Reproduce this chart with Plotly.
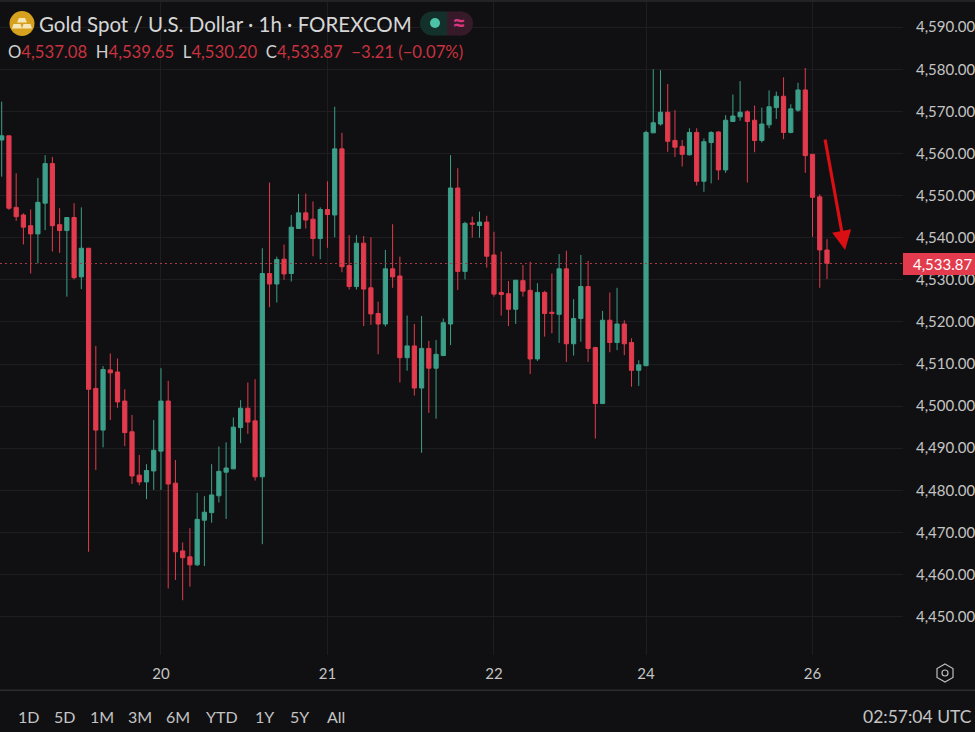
import plotly.graph_objects as go

# Hourly XAU/USD candles, oldest first
opens = [4563.2,4564.2,4547.2,4545.4,4542.85,4540.9,4548.2,4557.6,4543.1,4541.7,4544.8,4530.7,4537.5,4504.2,4494.3,4508.6,4508.1,4501.2,4493.9,4483.6,
         4482.0,4484.6,4489.3,4501.2,4481.7,4465.6,4464.2,4462.3,4472.9,4474.7,4478.7,4484.3,4485.1,4494.9,4499.5,4496.5,4483.2,4531.5,4529.0,4534.9,
         4531.5,4542.2,4545.9,4544.4,4539.8,4546.7,4545.4,4561.1,4533.4,4528.4,4538.7,4528.1,4522.0,4519.5,4532.6,4530.9,4511.5,4514.3,4504.3,4513.7,
         4509.0,4512.0,4519.5,4551.8,4532.0,4543.5,4542.9,4543.7,4535.9,4527.0,4526.7,4523.0,4529.8,4527.5,4511.2,4527.0,4522.3,4521.8,4532.6,4514.8,
         4520.8,4528.4,4513.9,4500.6,4520.4,4515.1,4519.5,4515.1,4508.5,4509.6,4564.9,4567.0,4569.8,4563.1,4561.7,4559.7,4565.0,4553.4,4562.6,4565.1,
         4556.1,4567.6,4568.7,4569.9,4567.9,4563.1,4566.8,4570.9,4573.6,4565.0,4570.3,4575.1,4559.8,4549.7,4537.08]
highs = [4572.3,4564.2,4555.3,4545.8,4546.7,4554.2,4559.6,4559.2,4547.0,4544.8,4548.2,4547.2,4537.5,4514.3,4509.5,4512.5,4511.3,4504.0,4497.9,4488.4,
         4486.2,4496.7,4509.0,4506.0,4487.2,4467.6,4471.0,4479.4,4478.6,4486.2,4490.4,4491.4,4497.3,4501.4,4505.6,4506.4,4537.5,4553.1,4535.5,4538.4,
         4545.4,4550.4,4550.5,4548.6,4547.2,4553.4,4571.1,4564.9,4540.6,4540.6,4540.4,4540.1,4524.8,4537.1,4543.2,4535.5,4521.5,4519.5,4521.4,4515.5,
         4515.7,4520.8,4559.6,4556.5,4543.8,4545.0,4546.2,4545.2,4541.4,4536.7,4529.7,4529.9,4533.5,4534.3,4529.2,4527.4,4531.5,4536.1,4536.9,4525.4,
         4535.9,4534.5,4514.1,4522.6,4527.0,4528.1,4520.4,4516.1,4510.9,4565.4,4580.0,4579.8,4576.5,4570.3,4563.2,4566.0,4566.0,4563.6,4565.3,4565.3,
         4569.1,4574.0,4577.2,4570.3,4571.4,4570.9,4575.0,4574.7,4578.1,4571.7,4576.8,4580.3,4559.8,4550.3,4539.65]
lows = [4554.5,4546.6,4544.0,4538.4,4531.5,4533.9,4541.8,4536.7,4536.4,4526.0,4530.1,4527.8,4465.4,4484.8,4490.2,4496.7,4499.6,4490.5,4481.5,4481.2,
        4477.9,4480.1,4480.1,4456.7,4458.7,4453.9,4457.1,4462.0,4462.0,4472.3,4477.1,4473.2,4485.0,4491.2,4493.4,4482.3,4467.2,4523.5,4524.6,4530.0,
        4529.6,4542.2,4542.2,4535.6,4534.9,4537.6,4540.1,4531.8,4527.7,4527.7,4519.0,4519.3,4512.3,4518.9,4528.1,4505.6,4508.4,4502.5,4488.9,4498.4,
        4497.0,4512.0,4514.5,4527.6,4530.1,4540.0,4540.0,4532.9,4526.0,4521.5,4519.0,4519.5,4526.0,4507.6,4510.7,4516.5,4517.3,4515.0,4510.5,4512.0,
        4515.3,4510.5,4492.3,4500.6,4512.8,4513.3,4512.1,4504.6,4504.8,4509.6,4564.9,4566.6,4560.4,4559.2,4556.9,4559.5,4552.4,4550.9,4552.9,4553.7,
        4555.4,4567.6,4567.8,4553.1,4560.3,4562.6,4566.0,4568.2,4563.4,4564.8,4569.9,4555.4,4540.2,4528.1,4530.20]
closes = [4564.2,4547.0,4545.0,4542.5,4540.9,4548.4,4557.6,4542.85,4541.7,4544.8,4530.5,4537.5,4504.0,4494.3,4508.7,4507.9,4501.0,4493.7,4483.4,4482.0,
          4484.7,4489.5,4501.2,4481.5,4465.4,4464.0,4462.3,4473.1,4474.8,4478.9,4484.5,4485.3,4495.0,4499.5,4496.2,4483.2,4531.5,4529.0,4534.8,4531.4,
          4542.5,4545.9,4544.2,4539.8,4546.7,4545.5,4561.1,4533.1,4528.4,4538.7,4527.8,4521.9,4519.5,4532.6,4530.7,4511.5,4514.3,4504.3,4513.7,4509.0,
          4512.3,4519.8,4551.8,4532.0,4543.4,4543.2,4543.7,4535.6,4526.6,4526.5,4523.0,4529.9,4527.3,4511.2,4527.0,4522.0,4522.0,4532.6,4514.8,4520.8,
          4528.4,4513.7,4500.6,4520.4,4515.1,4519.5,4514.8,4508.5,4509.8,4565.0,4567.3,4569.8,4562.9,4561.5,4559.8,4565.0,4553.4,4562.8,4565.0,4556.1,
          4567.9,4568.9,4569.8,4567.6,4563.1,4567.0,4571.1,4573.6,4565.0,4570.6,4575.1,4559.5,4549.6,4537.1,4533.87]

price_ticks = [4450, 4460, 4470, 4480, 4490, 4500, 4510, 4520, 4530, 4540, 4550, 4560, 4570, 4580, 4590]
day_positions = [22, 45, 68, 89, 112]
day_labels = ["20", "21", "22", "24", "26"]
range_labels = ["1D", "5D", "1M", "3M", "6M", "YTD", "1Y", "5Y", "All"]
range_centres = [28, 64, 102, 140, 178, 222, 264, 299, 336]
last_price = 4533.87

BG = "#101012"
GRID = "#1e1e20"
UP = "#3c9f89"
DOWN = "#e23b4d"
TEXT = "#c4c4c4"
FONT = "Lato"
W, H = 975, 732
PLOT_W, PLOT_H = 903, 655


def fx(px):
    return px / PLOT_W


def fy(py):
    return 1 - py / PLOT_H


def rect(x0, y0, x1, y1, fill, line=None):
    return dict(type="rect", xref="paper", yref="paper", x0=fx(x0), x1=fx(x1), y0=fy(y0), y1=fy(y1),
                fillcolor=fill, line=dict(width=0) if line is None else line, layer="above")


def pill(d, fill):
    return dict(type="path", xref="paper", yref="paper", path=d, fillcolor=fill, line=dict(width=0), layer="above")


def poly(points):
    return "M " + " L ".join(f"{fx(x):.5f},{fy(y):.5f}" for x, y in points) + " Z"


def label(x, y, text, size, color=TEXT, anchor="left"):
    return dict(xref="paper", yref="paper", x=fx(x), y=fy(y), text=text, showarrow=False, xanchor=anchor,
                yanchor="middle", align=anchor, xshift=0, font=dict(family=FONT, size=size, color=color))


fig = go.Figure(go.Candlestick(
    x=list(range(len(opens))), open=opens, high=highs, low=lows, close=closes,
    increasing=dict(line=dict(color=UP, width=1), fillcolor=UP),
    decreasing=dict(line=dict(color=DOWN, width=1), fillcolor=DOWN),
    whiskerwidth=0, showlegend=False, hoverinfo="skip",
))

shapes = [
    # latest price marker
    dict(type="line", xref="paper", yref="y", x0=0, x1=1, y0=last_price, y1=last_price,
         line=dict(color="#a83a45", width=1, dash="2px,3px"), layer="above"),
    rect(903, 253, 975, 275, "#e23b4d"),
    # bottom toolbar divider and top edge
    rect(0, 689.5, 975, 691, "#2c2c2e"),
    rect(0, 0, 975, 2, "#232325"),
    # symbol logo
    dict(type="circle", xref="paper", yref="paper", x0=fx(9.5), x1=fx(34.5), y0=fy(11), y1=fy(36),
         fillcolor="#d5a11f", line=dict(width=0), layer="above"),
    pill(poly([(19, 18), (25, 18), (27, 22.5), (17, 22.5)]), "#f6e7b8"),
    pill(poly([(13.5, 24), (20.5, 24), (22, 28.5), (12, 28.5)]), "#f6e7b8"),
    pill(poly([(23.5, 24), (30.5, 24), (32, 28.5), (22, 28.5)]), "#f6e7b8"),
    # status pill
    rect(432, 11.5, 447, 35.5, "#14302b"),
    dict(type="circle", xref="paper", yref="paper", x0=fx(420), x1=fx(444), y0=fy(11.5), y1=fy(35.5),
         fillcolor="#14302b", line=dict(width=0), layer="above"),
    rect(447, 11.5, 461, 35.5, "#371a2a"),
    dict(type="circle", xref="paper", yref="paper", x0=fx(449), x1=fx(473), y0=fy(11.5), y1=fy(35.5),
         fillcolor="#371a2a", line=dict(width=0), layer="above"),
    dict(type="circle", xref="paper", yref="paper", x0=fx(430), x1=fx(440), y0=fy(18), y1=fy(28),
         fillcolor="#4cc3a8", line=dict(width=0), layer="above"),
    # settings icon
    dict(type="path", xref="paper", yref="paper", layer="above", fillcolor="rgba(0,0,0,0)",
         line=dict(color="#bdbdbd", width=1.2),
         path=poly([(945, 664), (953, 668.5), (953, 677.5), (945, 682), (937, 677.5), (937, 668.5)])),
    dict(type="circle", xref="paper", yref="paper", x0=fx(942), x1=fx(948), y0=fy(670), y1=fy(676),
         fillcolor="rgba(0,0,0,0)", line=dict(color="#bdbdbd", width=1.2), layer="above"),
]

annotations = [
    label(37, 24, "Gold Spot / U.S. Dollar · 1h · FOREXCOM", 20.5, "#d6d6d6"),
    label(6, 51.5,
          "O<span style='color:#c8323f'>4,537.08</span>  H<span style='color:#c8323f'>4,539.65</span>  "
          "L<span style='color:#c8323f'>4,530.20</span>  C<span style='color:#c8323f'>4,533.87</span>  "
          "<span style='color:#c8323f'>−3.21 (−0.07%)</span>", 16.7, "#cfcfcf"),
    label(459, 22.5, "<b>≈</b>", 24, "#d8377e", "center"),
    label(974, 264, "4,533.87", 15, "#ffffff", "right"),
    label(974, 716, "02:57:04 UTC", 17.5, TEXT, "right"),
    # drawn trend arrow
    dict(x=116.5, y=4537.1, ax=113.7, ay=4563.7, xref="x", yref="y", axref="x", ayref="y", text="",
         showarrow=True, arrowhead=2, arrowsize=1.2, arrowwidth=3.2, arrowcolor="#d90f14"),
]
annotations += [label(c, 716, t, 16, TEXT, "center") for c, t in zip(range_centres, range_labels)]

fig.update_layout(
    width=W, height=H, autosize=False,
    margin=dict(l=0, r=W - PLOT_W, t=0, b=H - PLOT_H, pad=0),
    paper_bgcolor=BG, plot_bgcolor=BG, boxgap=0.17,
    font=dict(family=FONT, color=TEXT, size=14),
    shapes=shapes, annotations=annotations, showlegend=False,
    xaxis=dict(range=[-0.235, 124.5], rangeslider=dict(visible=False), tickmode="array",
               tickvals=day_positions, ticktext=day_labels, showgrid=True, gridcolor=GRID, gridwidth=1,
               zeroline=False, showline=False, ticks="outside", ticklen=5, tickcolor=BG,
               tickfont=dict(family=FONT, size=15, color=TEXT)),
    yaxis=dict(side="right", range=[4440.88, 4596.46], tickmode="array", tickvals=price_ticks,
               tickformat=",.2f", showgrid=True, gridcolor=GRID, gridwidth=1, zeroline=False,
               showline=False, ticks="outside", ticklen=9, tickcolor=BG,
               tickfont=dict(family=FONT, size=15, color=TEXT)),
)

fig.write_html("out.html")
